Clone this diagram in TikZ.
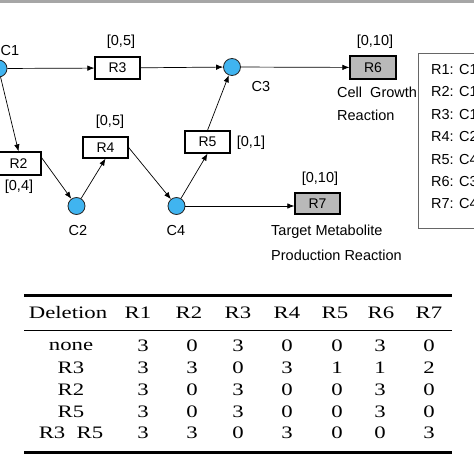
\documentclass[tikz,border=0pt]{standalone}
\usepackage{fontspec}
\setmainfont{Liberation Serif}
\newfontfamily\diagfont{Liberation Sans}
\usetikzlibrary{arrows.meta}
\definecolor{cblue}{RGB}{64,180,240}
\begin{document}
\begin{tikzpicture}[x=1pt,y=-1pt,
  cnode/.style={circle,draw=black!85,line width=0.8pt,fill=cblue,minimum size=17pt,inner sep=0pt},
  rbox/.style={draw,line width=1.3pt,minimum width=45pt,minimum height=22pt,inner sep=0pt,font=\diagfont\fontsize{14}{16}\selectfont},
  gbox/.style={rbox,fill=gray!55},
  lbl/.style={font=\diagfont\fontsize{14.5}{16}\selectfont,inner sep=0pt},
  arr/.style={-{Latex[length=7pt,width=5.5pt]},line width=0.7pt},
  tcell/.style={font=\fontsize{17.5}{20}\selectfont,xscale=1.3,inner sep=0pt}]
\useasboundingbox (0,0) rectangle (474,474);
\clip (0,0) rectangle (474,474);
\fill[gray!70] (0,0) rectangle (474,2.5);
% circles
\node[cnode] (C1) at (-1.5,68.5) {};
\node[cnode] (C3) at (232,67) {};
\node[cnode] (C2) at (76.5,206) {};
\node[cnode] (C4) at (176.5,206) {};
% boxes
\node[rbox] (R3) at (117.5,68) {R3};
\node[gbox,minimum width=46pt,minimum height=23pt] (R6) at (373,67.5) {R6};
\node[rbox,minimum height=23pt] (R2) at (18.5,163.5) {R2};
\node[rbox,minimum height=21pt] (R4) at (105.5,147.5) {R4};
\node[rbox] (R5) at (207.5,142) {R5};
\node[gbox,minimum height=21pt] (R7) at (317.5,203.5) {R7};
% labels
\node[lbl] (lC1) at (10,51) {C1};
\node[lbl] (lC2) at (78,231) {C2};
\node[lbl] (lC3) at (261,87) {C3};
\node[lbl] (lC4) at (176,231) {C4};
\node[lbl] (b3) at (121,42) {[0,5]};
\node[lbl] (b4) at (110,122) {[0,5]};
\node[lbl] (b2) at (19,187) {[0,4]};
\node[lbl] (b5) at (251,143) {[0,1]};
\node[lbl] (b6) at (375,42) {[0,10]};
\node[lbl] (b7) at (320,179) {[0,10]};
\node[lbl,anchor=west] (cg1) at (337,92) {Cell\ \ Growth};
\node[lbl,anchor=west] (cg2) at (337,115) {Reaction};
\node[lbl,anchor=west] (tm1) at (271,232) {Target Metabolite};
\node[lbl,anchor=west] (tm2) at (271,255) {Production Reaction};
% connectors
\draw[arr] (C1) -- (R3);
\draw[arr] (R3) -- (C3);
\draw[arr] (C3) -- (R6);
\draw[arr] (C1) -- (R2.north);
\draw[arr] (R2.14) -- (C2);
\draw[arr] (C2) -- (R4.south);
\draw[arr] (R4.east) -- (C4);
\draw[arr] (C4) -- (R5.south);
\draw[arr] (R5.north) -- (C3);
\draw[arr] (C4.east) -- (R7.west |- C4);
% legend
\draw[gray!80!black,line width=0.8pt] (418,53) rectangle (490,228);
\node[lbl,anchor=west] (L1) at (431,70) {R1: C1};
\node[lbl,anchor=west] (L2) at (431,92) {R2: C1-};
\node[lbl,anchor=west] (L3) at (431,115) {R3: C1-};
\node[lbl,anchor=west] (L4) at (431,137) {R4: C2-};
\node[lbl,anchor=west] (L5) at (431,160) {R5: C4-};
\node[lbl,anchor=west] (L6) at (431,182) {R6: C3};
\node[lbl,anchor=west] (L7) at (431,204) {R7: C4};
% table
\draw[line width=3pt] (24,295.5) -- (452,295.5);
\draw[line width=1pt] (24,330) -- (452,330);
\draw[line width=3pt] (24,452.5) -- (452,452.5);
\node[tcell] (h0) at (68,313) {Deletion};
\foreach \c/\x in {1/138,2/189,3/238,4/287,5/335,6/381,7/429}
  \node[tcell] (h\c) at (\x,313) {R\c};
\foreach \r/\y/\lab/\vals in {1/346/none/{3,0,3,0,0,3,0},2/368/R3/{3,3,0,3,1,1,2},3/390/R2/{3,0,3,0,0,3,0},4/412/R5/{3,0,3,0,0,3,0},5/433/{R3\ \ R5}/{3,3,0,3,0,0,3}}{
  \node[tcell] (r\r c0) at (71,\y) {\lab};
  \foreach \v [count=\c] in \vals {
    \pgfmathsetmacro{\xx}{{143,192,238,287,337,380,429}[\c-1]}
    \node[tcell] (r\r c\c) at (\xx,\y) {\v};
  }
}
\end{tikzpicture}
\end{document}
